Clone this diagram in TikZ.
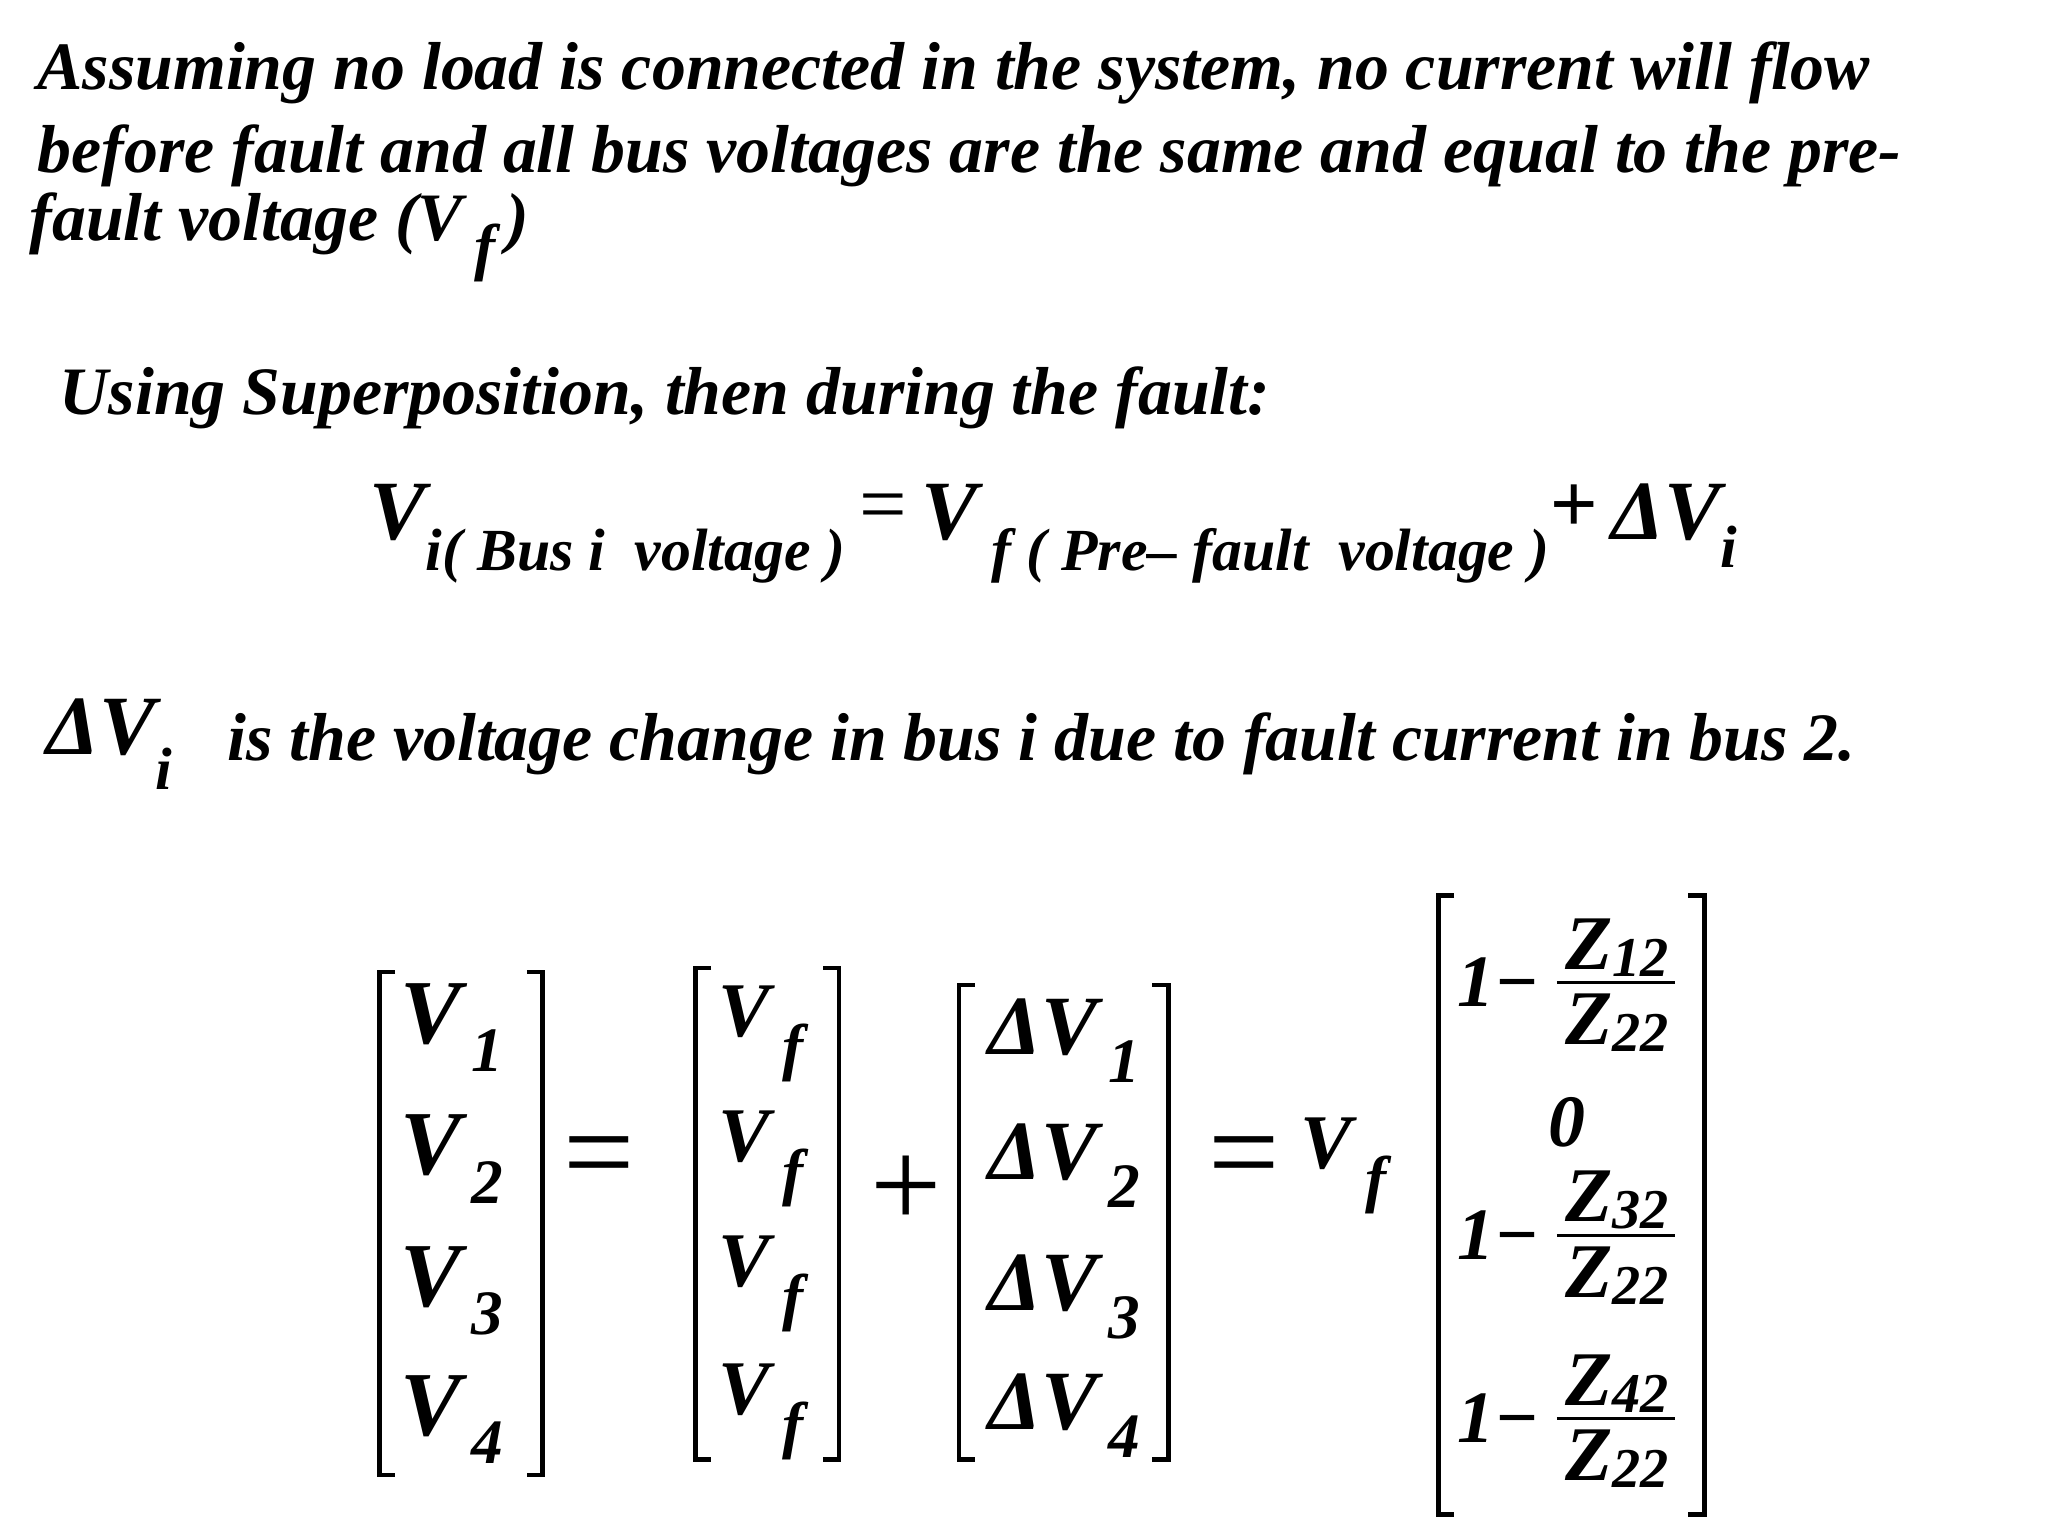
\documentclass[tikz,border=0pt]{standalone}
\usepackage{fontspec}
\setmainfont{Liberation Serif}
\newcommand\lsub[2]{\raisebox{-#2}{\fontsize{18}{18}\selectfont #1}}
\newcommand\ssub[2]{\raisebox{-#2}{\fontsize{17}{17}\selectfont #1}}
\begin{document}
\begin{tikzpicture}[x=0.01317cm,y=-0.01317cm,
  txt/.style={anchor=west,inner sep=0,font=\fontsize{19.3}{24}\selectfont\bfseries\itshape},
  ent/.style={inner sep=0,font=\fontsize{26}{26}\selectfont\bfseries\itshape},
  brk/.style={line width=1.3pt}]
\useasboundingbox (0,0) rectangle (1555,1166);
\node[txt] (l1) at (28,55) {Assuming no load is connected in the system, no current will flow};
\node[txt] (l2) at (28,118) {before fault and all bus voltages are the same and equal to the pre-};
\node[txt] (l3) at (22,180) {fault voltage (V\,\lsub{f}{8pt}\,)};
\node[txt] (l4) at (45,302) {Using Superposition, then during the fault:};
\node[txt,font=\fontsize{24}{24}\selectfont\bfseries\itshape] (eq) at (280,405) {V\ssub{i( Bus i\ \ voltage )}{9pt}\,\raisebox{2pt}{\normalfont =}\,V\,\ssub{f ( Pre\textendash\ fault\ \ voltage )}{9pt}\raisebox{2pt}{+}\,ΔV\ssub{i}{8pt}};
\node[txt,font=\fontsize{24}{24}\selectfont\bfseries\itshape] (dv) at (35,565) {ΔV\ssub{i}{10pt}};
\node[txt] (l5) at (172,565) {is the voltage change in bus i due to fault current in bus 2.};
% matrix 1
\draw[brk] (300,738) -- (288,738) -- (288,1120) -- (300,1120);
\draw[brk] (400,738) -- (412,738) -- (412,1120) -- (400,1120);
\foreach \i/\y in {1/780,2/880,3/980,4/1078}
  \node[ent] (v\i) at (343,\y) {V\lsub{\,\i}{8pt}};
\node[ent,font=\fontsize{36}{36}\selectfont] (e1) at (455,885) {=};
% matrix 2
\draw[brk] (540,735) -- (528,735) -- (528,1108) -- (540,1108);
\draw[brk] (625,735) -- (637,735) -- (637,1108) -- (625,1108);
\foreach \i/\y in {1/785,2/880,3/975,4/1072}
  \node[ent,font=\fontsize{22}{22}\selectfont\bfseries\itshape] (f\i) at (578,\y) {V\,\lsub{f}{9pt}};
\node[ent,font=\fontsize{36}{36}\selectfont] (p) at (688,905) {+};
% matrix 3
\draw[brk] (740,748) -- (728,748) -- (728,1108) -- (740,1108);
\draw[brk] (875,748) -- (887,748) -- (887,1108) -- (875,1108);
\foreach \i/\y in {1/790,2/885,3/985,4/1075}
  \node[ent,font=\fontsize{24}{24}\selectfont\bfseries\itshape] (d\i) at (808,\y) {ΔV\lsub{\,\i}{8pt}};
\node[ent,font=\fontsize{36}{36}\selectfont] (e2) at (945,885) {=};
\node[ent,font=\fontsize{22}{22}\selectfont\bfseries\itshape] (vf) at (1020,885) {V\,\lsub{f}{9pt}};
% matrix 4
\draw[brk] (1104,680) -- (1092,680) -- (1092,1150) -- (1104,1150);
\draw[brk] (1282,680) -- (1294,680) -- (1294,1150) -- (1282,1150);
\tikzset{one/.style={inner sep=0,font=\fontsize{21}{21}\selectfont\bfseries\itshape},
  zz/.style={inner sep=0,font=\fontsize{22}{22}\selectfont\bfseries\itshape}}
\newcommand\zsub[1]{\raisebox{-2pt}{\fontsize{16}{16}\selectfont #1}}
\foreach \n/\yb/\num in {a/746/12,b/938/32,c/1077/42}{
  \node[one] (one\n) at (1138,\yb) {1\textminus};
  \node[zz,anchor=south] (num\n) at (1228,\yb-4) {Z\zsub{\num}};
  \node[zz,anchor=north] (den\n) at (1228,\yb+8) {Z\zsub{22}};
  \draw[line width=0.8pt] (1182,\yb) -- (1272,\yb);
}
\node[one] (zero) at (1190,852) {0};
\end{tikzpicture}
\end{document}
